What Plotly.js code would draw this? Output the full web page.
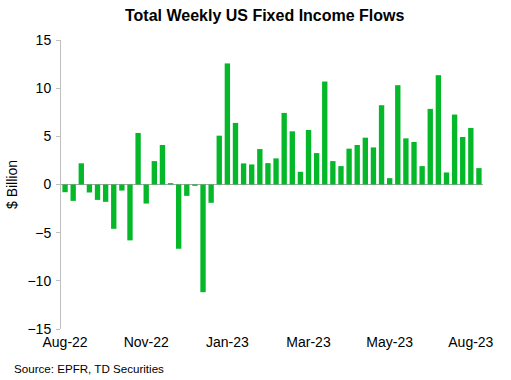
<!DOCTYPE html>
<html>
<head>
<meta charset="utf-8">
<script src="https://cdn.plot.ly/plotly-3.0.1.min.js"></script>
<style>html,body{margin:0;padding:0;background:#fff;}#chart{width:511px;height:380px;}</style>
</head>
<body>
<div id="chart"></div>
<script>
var weeks = [
  "2022-08-24","2022-08-31","2022-09-07","2022-09-14","2022-09-21","2022-09-28","2022-10-05","2022-10-12","2022-10-19","2022-10-26",
  "2022-11-02","2022-11-09","2022-11-16","2022-11-23","2022-11-30","2022-12-07","2022-12-14","2022-12-21","2022-12-28","2023-01-04",
  "2023-01-11","2023-01-18","2023-01-25","2023-02-01","2023-02-08","2023-02-15","2023-02-22","2023-03-01","2023-03-08","2023-03-15",
  "2023-03-22","2023-03-29","2023-04-05","2023-04-12","2023-04-19","2023-04-26","2023-05-03","2023-05-10","2023-05-17","2023-05-24",
  "2023-05-31","2023-06-07","2023-06-14","2023-06-21","2023-06-28","2023-07-05","2023-07-12","2023-07-19","2023-07-26","2023-08-02",
  "2023-08-09","2023-08-16"
];
var flows = [
  -0.8, -1.7, 2.2, -0.83, -1.6, -1.8, -4.6, -0.63, -5.8, 5.35,
  -1.98, 2.43, 4.1, 0.14, -6.67, -1.18, -0.14, -11.18, -1.9, 5.07,
  12.57, 6.39, 2.19, 2.08, 3.68, 2.22, 2.71, 7.43, 5.52, 1.32,
  5.66, 3.26, 10.69, 2.43, 1.91, 3.72, 4.1, 4.86, 3.85, 8.23,
  0.66, 10.31, 4.79, 4.41, 1.91, 7.85, 11.35, 1.25, 7.26, 4.93,
  5.87, 1.7
];
var tickWeeks = ["2022-08-24","2022-11-02","2023-01-11","2023-03-22","2023-05-31","2023-08-09"];
var tickLabels = ["Aug-22","Nov-22","Jan-23","Mar-23","May-23","Aug-23"];
var yTicks = [-15,-10,-5,0,5,10,15];

var trace = {
  type: 'bar',
  x: weeks,
  y: flows,
  marker: {color: '#05B82A', line: {width: 0}},
  hoverinfo: 'skip'
};
var layout = {
  width: 511, height: 380,
  margin: {l: 61, r: 28, t: 40, b: 51},
  paper_bgcolor: '#fff', plot_bgcolor: '#fff',
  font: {family: 'Liberation Sans, Arial, sans-serif', color: '#000', size: 14},
  title: {text: '<b>Total Weekly US Fixed Income Flows</b>', x: 0.518, xanchor: 'center', y: 0.96, yanchor: 'middle',
          font: {size: 16, family: 'Liberation Sans, Arial, sans-serif', color: '#000'}},
  showlegend: false,
  bargap: 0.34,
  xaxis: {
    type: 'category',
    categoryorder: 'array', categoryarray: weeks,
    tickmode: 'array', tickvals: tickWeeks, ticktext: tickLabels,
    showgrid: false, showline: false, zeroline: false, ticks: '',
    tickfont: {size: 14}, ticklabelstandoff: 3
  },
  yaxis: {
    range: [-15, 15], tickmode: 'array', tickvals: yTicks,
    showgrid: false, showline: true, linecolor: '#BFBFBF', linewidth: 1,
    ticks: 'outside', ticklen: 4, tickcolor: '#BFBFBF',
    zeroline: true, zerolinecolor: '#A6A6A6', zerolinewidth: 1.5,
    tickfont: {size: 14}, ticklabelstandoff: 2,
    title: {text: '$ Billion', font: {size: 14}, standoff: 6}
  },
  annotations: [{
    text: 'Source: EPFR, TD Securities', xref: 'paper', yref: 'paper',
    x: -0.115, y: -0.135, xanchor: 'left', yanchor: 'middle', showarrow: false,
    font: {size: 11.6, color: '#000'}
  }]
};
Plotly.newPlot('chart', [trace], layout, {displayModeBar: false, staticPlot: true});
</script>
</body>
</html>
